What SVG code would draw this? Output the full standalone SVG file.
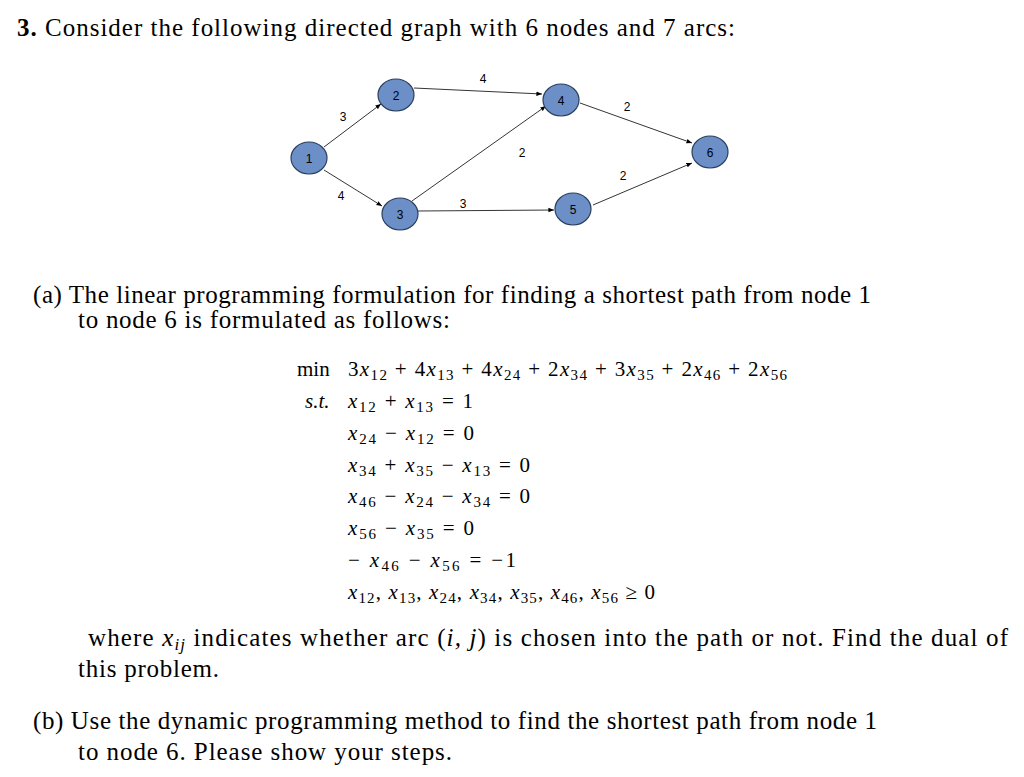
<svg xmlns="http://www.w3.org/2000/svg" width="1024" height="777" viewBox="0 0 1024 777">
<style>
.t{font-family:"Liberation Serif",serif;font-size:25px;fill:#000}
.m{font-family:"Liberation Serif",serif;font-size:21px;fill:#000}
.i{font-style:italic}
.n{fill:#6b8fc6;stroke:#2b3f5c;stroke-width:1.2}
.nl{font-family:"Liberation Sans",Arial,sans-serif;font-size:12px;text-anchor:middle;fill:#000}
.el{font-family:"Liberation Sans",Arial,sans-serif;font-size:12px;text-anchor:middle;fill:#000}
.e{stroke:#000;stroke-width:0.8;fill:none;marker-end:url(#a)}
</style>
<defs><marker id="a" viewBox="0 0 10 10" refX="10" refY="5" markerWidth="7" markerHeight="7" orient="auto"><path d="M0,1 L10,5 L0,9 z" fill="#000"/></marker></defs>
<rect width="1024" height="777" fill="#fff"/>
<text class="t" x="17" y="36" textLength="718"><tspan font-weight="bold">3.</tspan> Consider the following directed graph with 6 nodes and 7 arcs:</text>
<g id="connectors">
<line class="e" x1="324" y1="147" x2="381" y2="104"/>
<line class="e" x1="324" y1="170" x2="382" y2="206"/>
<line class="e" x1="414" y1="88" x2="542" y2="94"/>
<line class="e" x1="412" y1="201" x2="546" y2="106"/>
<line class="e" x1="418" y1="211" x2="554" y2="210"/>
<line class="e" x1="580" y1="103" x2="692" y2="143"/>
<line class="e" x1="593" y1="205" x2="692" y2="163"/>
<text class="el" x="343" y="121">3</text>
<text class="el" x="341" y="200">4</text>
<text class="el" x="483" y="83">4</text>
<text class="el" x="627" y="111">2</text>
<text class="el" x="522" y="157">2</text>
<text class="el" x="623" y="180">2</text>
<text class="el" x="463" y="208">3</text>
</g>
<g id="n1"><ellipse class="n" cx="309" cy="158" rx="18" ry="16"/><text class="nl" x="309" y="163">1</text></g>
<g id="n2"><ellipse class="n" cx="396" cy="95" rx="18" ry="16"/><text class="nl" x="396" y="100">2</text></g>
<g id="n3"><ellipse class="n" cx="400" cy="214" rx="18" ry="16"/><text class="nl" x="400" y="219">3</text></g>
<g id="n4"><ellipse class="n" cx="561" cy="100" rx="18" ry="16"/><text class="nl" x="561" y="105">4</text></g>
<g id="n5"><ellipse class="n" cx="573" cy="209" rx="18" ry="16"/><text class="nl" x="573" y="214">5</text></g>
<g id="n6"><ellipse class="n" cx="710" cy="152" rx="18" ry="16"/><text class="nl" x="710" y="157">6</text></g>
<text class="t" x="33" y="303" textLength="838">(a) The linear programming formulation for finding a shortest path from node 1</text>
<text class="t" x="78" y="328" textLength="372">to node 6 is formulated as follows:</text>
<text class="m" x="297" y="376">min</text>
<text class="m" x="348" y="376" textLength="439">3<tspan class="i">x</tspan><tspan font-size="15" dy="4">12</tspan><tspan dy="-4"> + 4</tspan><tspan class="i">x</tspan><tspan font-size="15" dy="4">13</tspan><tspan dy="-4"> + 4</tspan><tspan class="i">x</tspan><tspan font-size="15" dy="4">24</tspan><tspan dy="-4"> + 2</tspan><tspan class="i">x</tspan><tspan font-size="15" dy="4">34</tspan><tspan dy="-4"> + 3</tspan><tspan class="i">x</tspan><tspan font-size="15" dy="4">35</tspan><tspan dy="-4"> + 2</tspan><tspan class="i">x</tspan><tspan font-size="15" dy="4">46</tspan><tspan dy="-4"> + 2</tspan><tspan class="i">x</tspan><tspan font-size="15" dy="4">56</tspan></text>
<text class="m i" x="305" y="408">s.t.</text>
<text class="m" x="348" y="408" textLength="125"><tspan class="i">x</tspan><tspan font-size="15" dy="4">12</tspan><tspan dy="-4"> + </tspan><tspan class="i">x</tspan><tspan font-size="15" dy="4">13</tspan><tspan dy="-4"> = 1</tspan></text>
<text class="m" x="348" y="440" textLength="126"><tspan class="i">x</tspan><tspan font-size="15" dy="4">24</tspan><tspan dy="-4"> − </tspan><tspan class="i">x</tspan><tspan font-size="15" dy="4">12</tspan><tspan dy="-4"> = 0</tspan></text>
<text class="m" x="348" y="472" textLength="182"><tspan class="i">x</tspan><tspan font-size="15" dy="4">34</tspan><tspan dy="-4"> + </tspan><tspan class="i">x</tspan><tspan font-size="15" dy="4">35</tspan><tspan dy="-4"> − </tspan><tspan class="i">x</tspan><tspan font-size="15" dy="4">13</tspan><tspan dy="-4"> = 0</tspan></text>
<text class="m" x="348" y="503" textLength="182"><tspan class="i">x</tspan><tspan font-size="15" dy="4">46</tspan><tspan dy="-4"> − </tspan><tspan class="i">x</tspan><tspan font-size="15" dy="4">24</tspan><tspan dy="-4"> − </tspan><tspan class="i">x</tspan><tspan font-size="15" dy="4">34</tspan><tspan dy="-4"> = 0</tspan></text>
<text class="m" x="348" y="535" textLength="126"><tspan class="i">x</tspan><tspan font-size="15" dy="4">56</tspan><tspan dy="-4"> − </tspan><tspan class="i">x</tspan><tspan font-size="15" dy="4">35</tspan><tspan dy="-4"> = 0</tspan></text>
<text class="m" x="348" y="567" textLength="168">− <tspan class="i">x</tspan><tspan font-size="15" dy="4">46</tspan><tspan dy="-4"> − </tspan><tspan class="i">x</tspan><tspan font-size="15" dy="4">56</tspan><tspan dy="-4"> = −1</tspan></text>
<text class="m" x="348" y="599" textLength="307"><tspan class="i">x</tspan><tspan font-size="15" dy="4">12</tspan><tspan dy="-4">, </tspan><tspan class="i">x</tspan><tspan font-size="15" dy="4">13</tspan><tspan dy="-4">, </tspan><tspan class="i">x</tspan><tspan font-size="15" dy="4">24</tspan><tspan dy="-4">, </tspan><tspan class="i">x</tspan><tspan font-size="15" dy="4">34</tspan><tspan dy="-4">, </tspan><tspan class="i">x</tspan><tspan font-size="15" dy="4">35</tspan><tspan dy="-4">, </tspan><tspan class="i">x</tspan><tspan font-size="15" dy="4">46</tspan><tspan dy="-4">, </tspan><tspan class="i">x</tspan><tspan font-size="15" dy="4">56</tspan><tspan dy="-4"> ≥ 0</tspan></text>
<text class="t" x="88" y="646" textLength="920">where <tspan class="i">x</tspan><tspan class="i" font-size="17" dy="4">ij</tspan><tspan dy="-4"> indicates whether arc (</tspan><tspan class="i">i, j</tspan>) is chosen into the path or not. Find the dual of</text>
<text class="t" x="78" y="677" textLength="141">this problem.</text>
<text class="t" x="33" y="729" textLength="844">(b) Use the dynamic programming method to find the shortest path from node 1</text>
<text class="t" x="78" y="760" textLength="374">to node 6. Please show your steps.</text>
</svg>
